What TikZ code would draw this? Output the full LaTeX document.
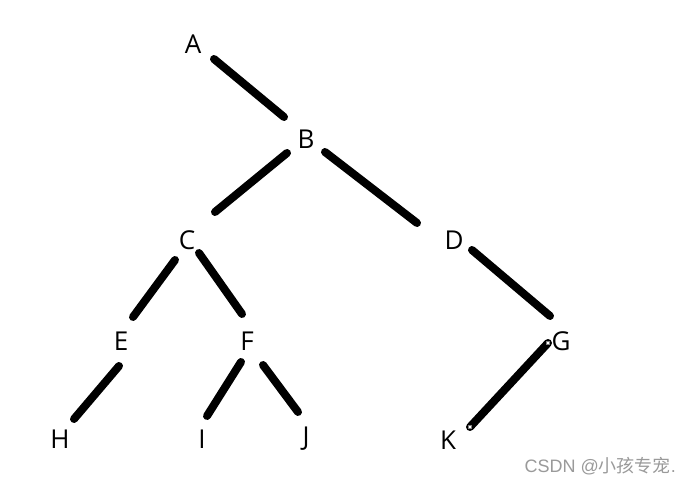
\documentclass[tikz,border=0pt]{standalone}
\usepackage{fontspec}
\setmainfont{Open Sans}
\newfontfamily\cjkfont{Noto Sans CJK SC}
\newfontfamily\wmlatin{Liberation Sans}
\definecolor{wmgray}{HTML}{9A9A9A}
\begin{document}
\begin{tikzpicture}[x=1pt,y=-1pt,
  lbl/.style={font=\fontsize{26}{26}\selectfont, inner sep=0pt, text=black},
  edge/.style={line width=8pt, line cap=round, black},
  handle/.style={draw=gray, fill=white, line width=0.6pt, minimum size=3pt, inner sep=0pt}]
\useasboundingbox[fill=white] (0,0) rectangle (689,486);
% labels
\node[lbl] (A) at (193,44) {A};
\node[lbl] (B) at (306,139) {B};
\node[lbl] (C) at (187,240) {C};
\node[lbl] (D) at (454,240) {D};
\node[lbl] (E) at (121,341) {E};
\node[lbl] (F) at (247,341) {F};
\node[lbl] (G) at (561,341) {G};
\node[lbl] (H) at (60,439) {H};
\node[lbl] (I) at (202,439) {I};
\node[lbl] (J) at (306,439) {J};
\node[lbl] (K) at (448,440) {K};
% connector ends
\coordinate (ab1) at (214,59);  \coordinate (ab2) at (284,117);
\coordinate (bc1) at (287,153); \coordinate (bc2) at (215,212);
\coordinate (bd1) at (325,152); \coordinate (bd2) at (417,223);
\coordinate (ce1) at (175,260); \coordinate (ce2) at (133,317);
\coordinate (cf1) at (199,253); \coordinate (cf2) at (242,314);
\coordinate (dg1) at (472,250); \coordinate (dg2) at (550,316);
\coordinate (eh1) at (119,366); \coordinate (eh2) at (74,419);
\coordinate (fi1) at (241,362); \coordinate (fi2) at (207,416);
\coordinate (fj1) at (263,365); \coordinate (fj2) at (298,412);
\coordinate (gk1) at (548,343); \coordinate (gk2) at (470,427);
\draw[edge] (ab1) -- (ab2);
\draw[edge] (bc1) -- (bc2);
\draw[edge] (bd1) -- (bd2);
\draw[edge] (ce1) -- (ce2);
\draw[edge] (cf1) -- (cf2);
\draw[edge] (dg1) -- (dg2);
\draw[edge] (eh1) -- (eh2);
\draw[edge] (fi1) -- (fi2);
\draw[edge] (fj1) -- (fj2);
\draw[edge] (gk1) -- (gk2);
\node[handle] (h1) at (gk1) {};
\node[handle] (h2) at (gk2) {};
% watermark
\node[anchor=east, inner sep=0pt, text=wmgray, font=\fontsize{18}{18}\selectfont] (wm) at (676,466) {\wmlatin CSDN @\cjkfont 小孩专宠\wmlatin .};
\end{tikzpicture}
\end{document}
